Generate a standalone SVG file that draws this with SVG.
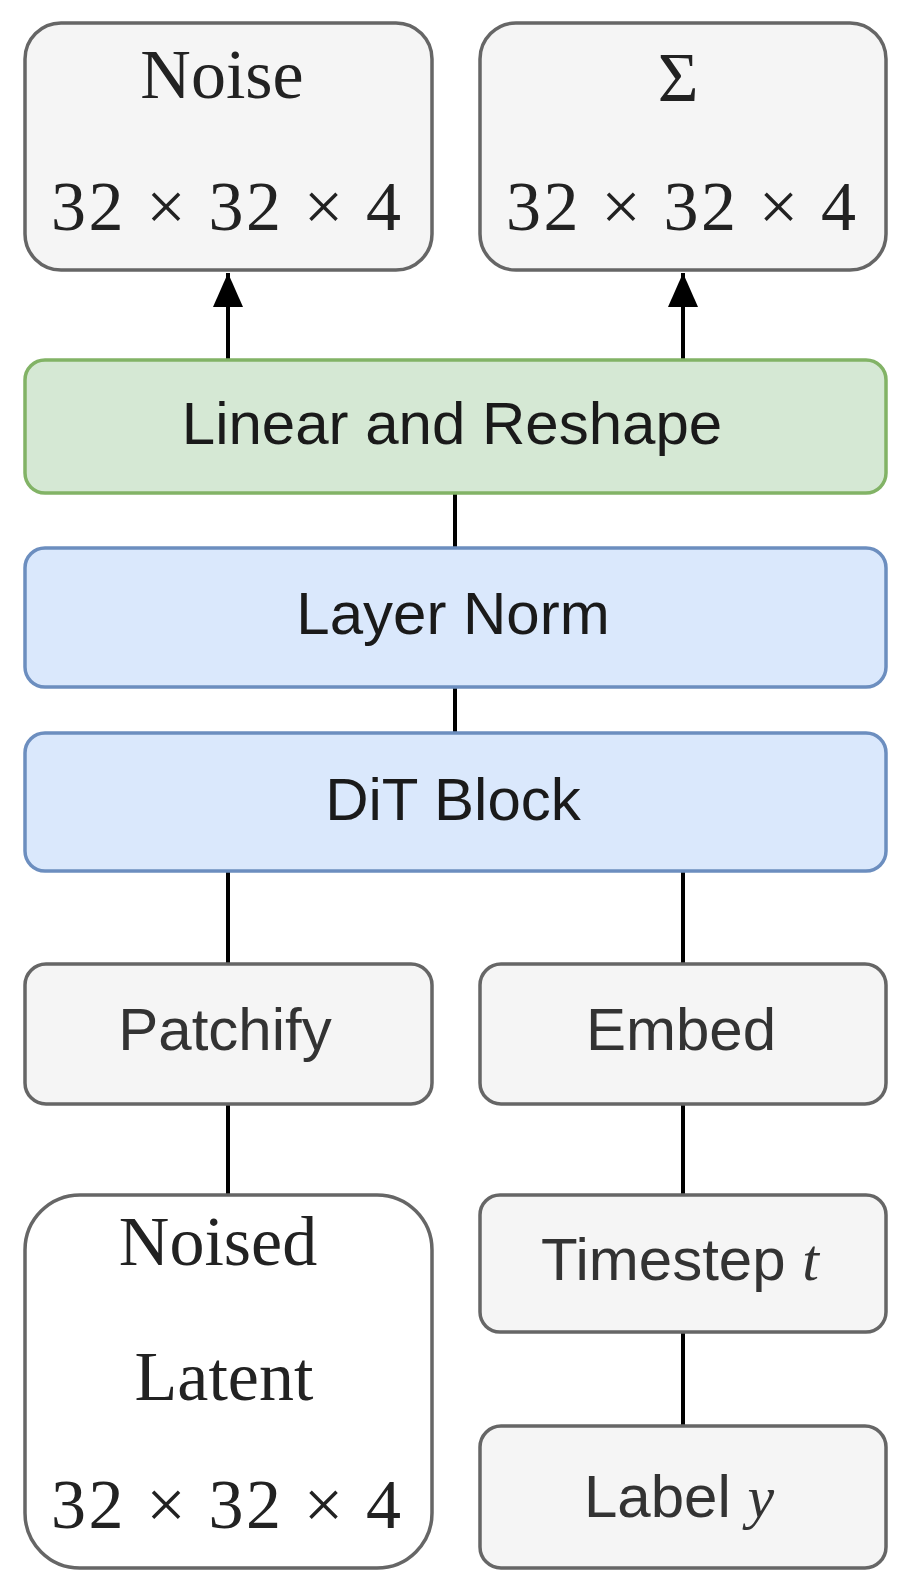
<svg xmlns="http://www.w3.org/2000/svg" width="910" height="1591" viewBox="0 0 910 1591">
<defs>
<style>
.gray{fill:#f5f5f5;stroke:#666666;stroke-width:3.5}
.white{fill:#ffffff;stroke:#666666;stroke-width:3.5}
.green{fill:#d5e8d4;stroke:#82b366;stroke-width:3.5}
.blue{fill:#dae8fc;stroke:#6c8ebf;stroke-width:3.5}
.sans{font-family:"Liberation Sans",Arial,sans-serif;font-size:60px;text-anchor:middle}
.dk{fill:#1a1a1a}
.gt{fill:#333333}
.math{font-family:"Liberation Serif","Times New Roman",serif;font-size:70px;text-anchor:middle;fill:#222222}
.it{font-family:"Liberation Serif","Times New Roman",serif;font-style:italic}
.conn{stroke:#000000;stroke-width:4;fill:none}
</style>
<marker id="arr" markerUnits="userSpaceOnUse" markerWidth="36" markerHeight="32" refX="34" refY="15" orient="auto">
<path d="M0,0 L34,15 L0,30 Z" fill="#000000"/>
</marker>
</defs>
<rect width="910" height="1591" fill="#ffffff"/>
<g id="connectors">
<line class="conn" x1="228" y1="360" x2="228" y2="273" marker-end="url(#arr)"/>
<line class="conn" x1="683" y1="360" x2="683" y2="273" marker-end="url(#arr)"/>
<line class="conn" x1="455" y1="493" x2="455" y2="548"/>
<line class="conn" x1="455" y1="687" x2="455" y2="733"/>
<line class="conn" x1="228" y1="871" x2="228" y2="964"/>
<line class="conn" x1="683" y1="871" x2="683" y2="964"/>
<line class="conn" x1="228" y1="1104" x2="228" y2="1195"/>
<line class="conn" x1="683" y1="1104" x2="683" y2="1195"/>
<line class="conn" x1="683" y1="1332" x2="683" y2="1426"/>
</g>
<g id="noise">
<rect class="gray" x="25" y="23" width="407" height="247" rx="36"/>
<text class="math" x="222" y="98">Noise</text>
<text class="math" x="226" y="230" textLength="350" lengthAdjust="spacing">32 × 32 × 4</text>
</g>
<g id="sigma">
<rect class="gray" x="480" y="23" width="406" height="247" rx="36"/>
<text class="math" x="678" y="101">Σ</text>
<text class="math" x="681" y="230" textLength="350" lengthAdjust="spacing">32 × 32 × 4</text>
</g>
<g id="linear">
<rect class="green" x="25" y="360" width="861" height="133" rx="20"/>
<text class="sans dk" x="452" y="444">Linear and Reshape</text>
</g>
<g id="layernorm">
<rect class="blue" x="25" y="548" width="861" height="139" rx="20"/>
<text class="sans dk" x="453" y="634">Layer Norm</text>
</g>
<g id="dit">
<rect class="blue" x="25" y="733" width="861" height="138" rx="20"/>
<text class="sans dk" x="453" y="820">DiT Block</text>
</g>
<g id="patchify">
<rect class="gray" x="25" y="964" width="407" height="140" rx="21"/>
<text class="sans gt" x="225" y="1050">Patchify</text>
</g>
<g id="embed">
<rect class="gray" x="480" y="964" width="406" height="140" rx="21"/>
<text class="sans gt" x="681" y="1050">Embed</text>
</g>
<g id="noised-latent">
<rect class="white" x="25" y="1195" width="407" height="373" rx="55"/>
<text class="math" x="218" y="1265">Noised</text>
<text class="math" x="224" y="1400">Latent</text>
<text class="math" x="226" y="1528" textLength="350" lengthAdjust="spacing">32 × 32 × 4</text>
</g>
<g id="timestep">
<rect class="gray" x="480" y="1195" width="406" height="137" rx="20"/>
<text class="sans gt" x="680" y="1280">Timestep <tspan class="it">t</tspan></text>
</g>
<g id="label">
<rect class="gray" x="480" y="1426" width="406" height="142" rx="21"/>
<text class="sans gt" x="679" y="1517">Label <tspan class="it">y</tspan></text>
</g>
</svg>
